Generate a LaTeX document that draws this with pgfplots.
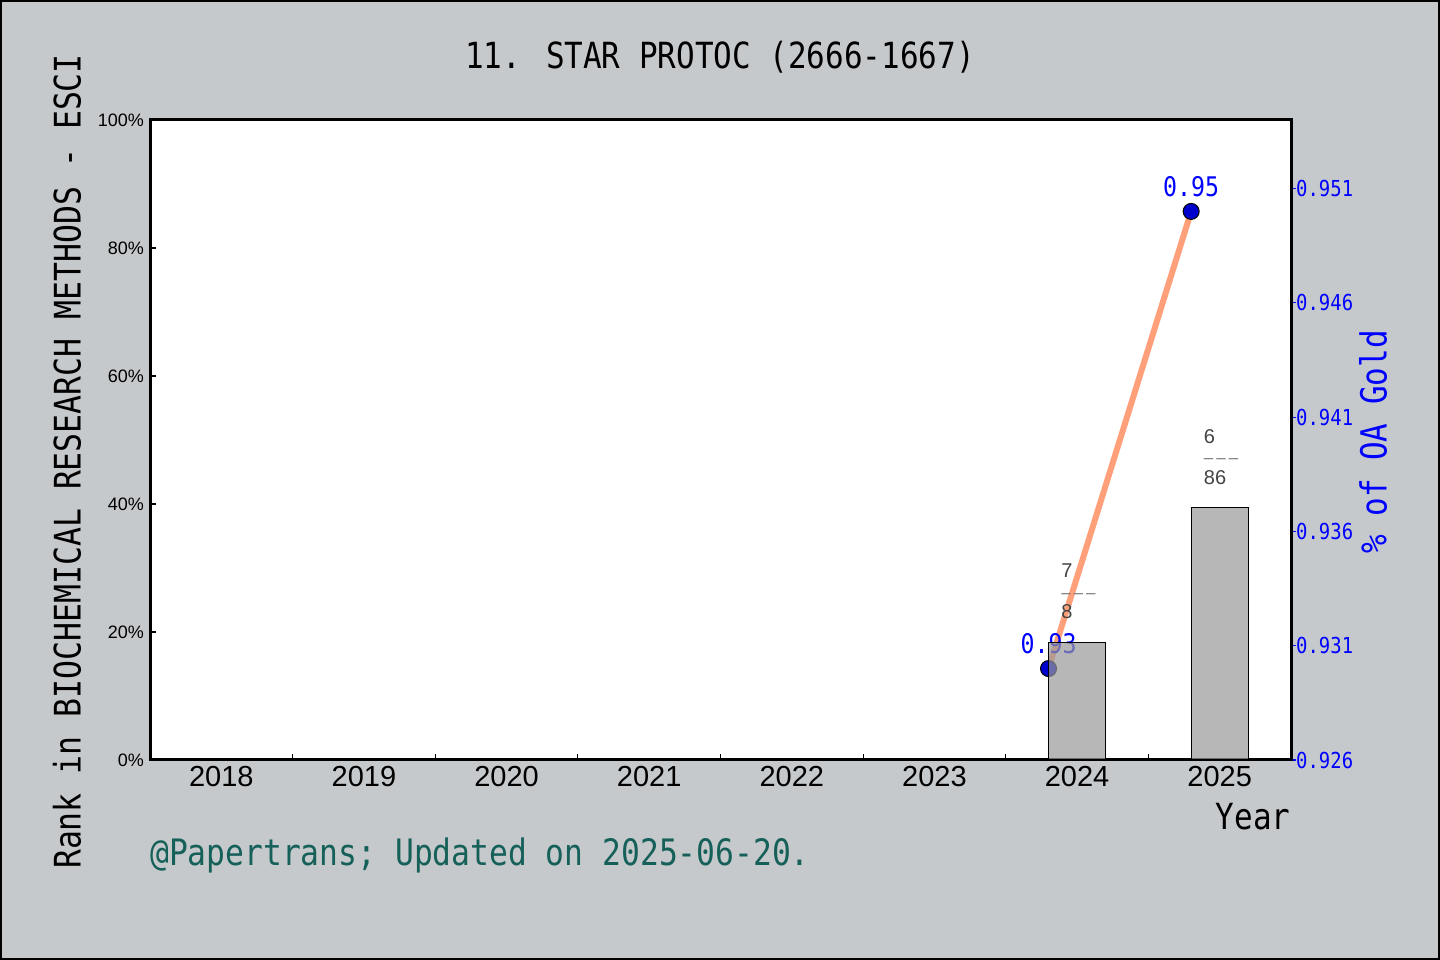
\documentclass[border=0pt]{standalone}
\usepackage{fontspec}
\usepackage{pgfplots}
\pgfplotsset{compat=1.18}
\setmainfont{Liberation Sans}
\newfontfamily\hei[FakeStretch=0.86]{DejaVu Sans Mono}
\definecolor{bg}{HTML}{C6C9CC}
\definecolor{salmon}{HTML}{FFA07A}
\definecolor{foot}{HTML}{16605A}
\definecolor{mblue}{HTML}{0000CC}
\definecolor{tblue}{HTML}{0000FF}
\definecolor{barfill}{HTML}{999999}
\definecolor{lab}{HTML}{444444}
\definecolor{dashc}{HTML}{777777}
\newcommand{\dashes}{{\color{dashc}\fontsize{17}{17}\selectfont –\hspace{3pt}–\hspace{3pt}–}}
\begin{document}
\begin{tikzpicture}[x=1pt,y=1pt]
\fill[bg] (0,0) rectangle (1440,960);
\draw[black, line width=2pt] (1,1) rectangle (1439,959);
% right axis: share of OA Gold
\begin{axis}[
  at={(150pt,200pt)}, anchor=south west, scale only axis,
  width=1141pt, height=640pt,
  xmin=-0.5, xmax=7.5, ymin=0.926, ymax=0.954,
  axis background/.style={fill=white},
  xtick=\empty,
  ytick={0.926,0.931,0.936,0.941,0.946,0.951},
  yticklabels={0.926,0.931,0.936,0.941,0.946,0.951},
  ytick pos=right, tick align=outside,
  major tick length=5pt,
  y tick style={tblue, line width=1.2pt},
  yticklabel style={font=\hei\fontsize{22}{24}\selectfont, text=tblue, inner sep=0pt},
  axis line style={line width=3pt},
  clip=false,
]
\addplot[salmon, line width=6pt, mark=*, mark size=8pt,
  mark options={fill=mblue, draw=black, line width=1pt, solid},
  nodes near coords, point meta=explicit symbolic,
  every node near coord/.append style={font=\hei\fontsize{27}{30}\selectfont, text=tblue, anchor=base, yshift=15pt, inner sep=0pt}]
  coordinates {(5.8,0.930) [0.93] (6.8,0.950) [0.95]};
\end{axis}
% left axis: rank percentile
\begin{axis}[
  at={(150pt,200pt)}, anchor=south west, scale only axis,
  width=1141pt, height=640pt,
  xmin=-0.5, xmax=7.5, ymin=0, ymax=100,
  axis line style={line width=3pt},
  xtick={0.5,1.5,...,6.5}, xticklabels={},
  extra x ticks={0,1,2,3,4,5,6,7},
  extra x tick labels={2018,2019,2020,2021,2022,2023,2024,2025},
  extra x tick style={major tick length=0pt},
  xticklabel style={font=\fontsize{29}{30}\selectfont, inner sep=0pt, yshift=-6pt},
  ytick={0,20,40,60,80,100},
  yticklabels={0\%,20\%,40\%,60\%,80\%,100\%},
  yticklabel style={font=\fontsize{18}{20}\selectfont, inner sep=0pt, xshift=-6pt},
  ytick pos=left, xtick pos=bottom, tick align=inside,
  major tick length=6pt,
  tick style={black, line width=1.1pt},
  clip=false,
]
\addplot[ybar, bar width=57pt, bar shift=0pt, draw=black, line width=1.2pt,
  fill=barfill, fill opacity=0.7, draw opacity=1]
  coordinates {(6,18.4) (7,39.4)};
\node[anchor=south west, inner sep=0pt, align=left, font=\fontsize{20}{20.5}\selectfont, text=lab, xshift=-16pt, yshift=23pt]
  at (axis cs:6,18.4) {7\\\dashes\\8};
\node[anchor=south west, inner sep=0pt, align=left, font=\fontsize{20}{20.5}\selectfont, text=lab, xshift=-16pt, yshift=23pt]
  at (axis cs:7,39.4) {6\\\dashes\\86};
\end{axis}
\node[font=\hei\fontsize{36}{40}\selectfont] at (720,903) {11. STAR PROTOC (2666-1667)};
\node[rotate=90, font=\hei\fontsize{36.6}{40}\selectfont] at (67,498.5) {Rank in BIOCHEMICAL RESEARCH METHODS - ESCI};
\node[rotate=90, font=\hei\fontsize{36}{40}\selectfont, text=tblue] at (1373,518) {\% of OA Gold};
\node[font=\hei\fontsize{36}{40}\selectfont] at (1253,143) {Year};
\node[anchor=west, inner sep=0pt, font=\hei\fontsize{36.4}{40}\selectfont, text=foot] at (150,105) {@Papertrans; Updated on 2025-06-20.};
\end{tikzpicture}
\end{document}
